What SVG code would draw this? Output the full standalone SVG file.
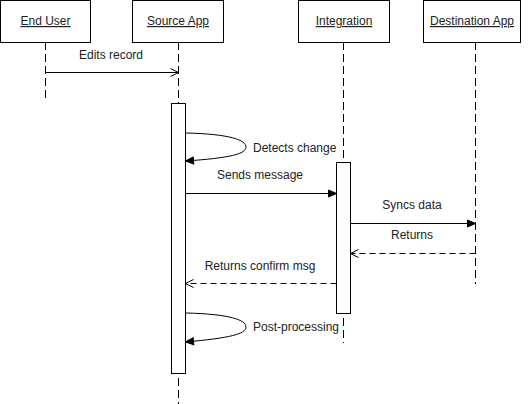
<svg xmlns="http://www.w3.org/2000/svg" width="528" height="404" viewBox="0 0 528 404">
<defs>
<style>
.box{fill:#fff;stroke:#000;stroke-width:1}
.life{stroke:#000;stroke-width:1;stroke-dasharray:8 4;fill:none}
.msg{stroke:#000;stroke-width:1;fill:none}
.ret{stroke:#000;stroke-width:1;fill:none;stroke-dasharray:6 4}
.hdr{font-family:"Liberation Sans",Arial,sans-serif;font-size:12px;fill:#222;text-anchor:middle;text-decoration:underline}
.lbl{font-family:"Liberation Sans",Arial,sans-serif;font-size:12px;fill:#222}
</style>
<marker id="open" markerWidth="10" markerHeight="10" refX="9" refY="5" orient="auto" markerUnits="userSpaceOnUse">
<path d="M1,1 L9,5 L1,9" fill="none" stroke="#000" stroke-width="1"/>
</marker>
<marker id="filled" markerWidth="10" markerHeight="10" refX="9" refY="5" orient="auto" markerUnits="userSpaceOnUse">
<path d="M1,1.5 L9,5 L1,8.5 Z" fill="#000" stroke="#000" stroke-width="1"/>
</marker>
</defs>
<rect width="528" height="404" fill="#fff"/>
<g id="lifelines">
<line class="life" x1="45.5" y1="42" x2="45.5" y2="102"/>
<line class="life" x1="178.5" y1="42" x2="178.5" y2="404"/>
<line class="life" x1="343.5" y1="42" x2="343.5" y2="343"/>
<line class="life" x1="475.5" y1="42" x2="475.5" y2="284"/>
</g>
<g id="end-user"><rect class="box" x="0.5" y="0.5" width="90" height="42"/><text class="hdr" x="45.5" y="25">End User</text></g>
<g id="source-app"><rect class="box" x="132.5" y="0.5" width="91" height="42"/><text class="hdr" x="178" y="25">Source App</text></g>
<g id="integration"><rect class="box" x="298.5" y="0.5" width="91" height="42"/><text class="hdr" x="344" y="25">Integration</text></g>
<g id="destination-app"><rect class="box" x="423.5" y="0.5" width="97" height="42"/><text class="hdr" x="472" y="25">Destination App</text></g>
<g id="source-activation"><rect class="box" x="171.5" y="103.5" width="14" height="270"/></g>
<g id="integration-activation"><rect class="box" x="336.5" y="162.5" width="14" height="151"/></g>
<g id="connectors">
<line class="msg" x1="45.5" y1="72.5" x2="178.5" y2="72.5" marker-end="url(#open)"/>
<path class="msg" d="M185.5,133 C230,134 246,140 246,147 C246,154 230,158 185.5,161" marker-end="url(#filled)"/>
<line class="msg" x1="185.5" y1="193.5" x2="336.5" y2="193.5" marker-end="url(#filled)"/>
<line class="msg" x1="350.5" y1="223.5" x2="475.5" y2="223.5" marker-end="url(#filled)"/>
<line class="ret" x1="475.5" y1="253.5" x2="350.5" y2="253.5" marker-end="url(#open)"/>
<line class="ret" x1="336.5" y1="283.5" x2="185.5" y2="283.5" marker-end="url(#open)"/>
<path class="msg" d="M185.5,313 C230,314 246,320 246,327 C246,334 230,338 185.5,342" marker-end="url(#filled)"/>
</g>
<g id="labels">
<text class="lbl" x="111" y="59" text-anchor="middle">Edits record</text>
<text class="lbl" x="253" y="152">Detects change</text>
<text class="lbl" x="260" y="179" text-anchor="middle">Sends message</text>
<text class="lbl" x="412" y="209" text-anchor="middle">Syncs data</text>
<text class="lbl" x="412" y="239" text-anchor="middle">Returns</text>
<text class="lbl" x="260" y="270" text-anchor="middle">Returns confirm msg</text>
<text class="lbl" x="253" y="331">Post-processing</text>
</g>
</svg>
